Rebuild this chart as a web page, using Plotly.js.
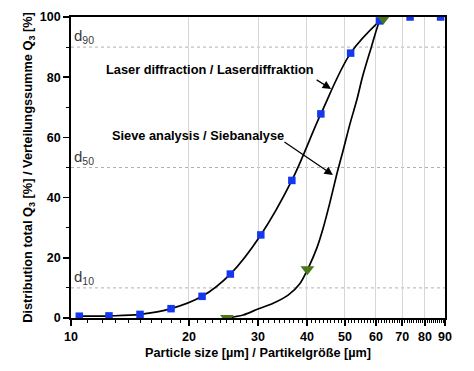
<!DOCTYPE html>
<html>
<head>
<meta charset="utf-8">
<script src="https://cdn.plot.ly/plotly-3.0.1.min.js"></script>
<style>html,body{margin:0;padding:0;background:#fff;}#chart{width:474px;height:371px;}</style>
</head>
<body>
<div id="chart"></div>
<script>
// Laser diffraction measured points (particle size µm, Q3 %)
const laserX = [10.5, 12.5, 15.0, 18.0, 21.6, 25.5, 30.5, 36.6, 43.4, 51.7, 61.3, 73.3, 87.7];
const laserY = [0.6, 0.7, 1.2, 3.1, 7.2, 14.6, 27.6, 45.7, 67.8, 88.0, 98.7, 100, 100];
// Sieve analysis measured points
const sieveX = [25.0, 40.1, 62.7];
const sieveY = [0, 16.2, 99.5];
// Sieve analysis drawn curve
const sieveCurveX = [25.0, 27.5, 30.0, 32.8, 35.8, 38.4, 40.3, 42.4, 44.0, 45.8, 47.6, 49.5, 51.5, 53.6, 55.5, 58.3, 61.4, 62.5];
const sieveCurveY = [0, 1.0, 3.0, 4.9, 7.6, 11.5, 16.6, 23.3, 29.9, 38.5, 47.5, 55.8, 64.5, 72.4, 80.4, 89.7, 98.7, 99.3];
// Characteristic levels
const dLevels = [10, 50, 90];
const dLabels = ['d<sub>10</sub>', 'd<sub>50</sub>', 'd<sub>90</sub>'];
// Axis ticks
const xTicks = [10, 20, 30, 40, 50, 60, 70, 80, 90];
const yTicks = [0, 20, 40, 60, 80, 100];
const xMinor = [];
for (let v = 11; v < 90; v++) { if (v % 10 !== 0) xMinor.push(v); }

const FONT = 'Liberation Sans, Arial, sans-serif';
const lineCut = laserX.filter(x => x <= 62).length;

const traces = [
  {x: sieveCurveX, y: sieveCurveY, mode: 'lines', line: {color: '#000', width: 1.7, shape: 'spline', smoothing: 0.8}, hoverinfo: 'skip'},
  {x: laserX.slice(0, lineCut), y: laserY.slice(0, lineCut), mode: 'lines', line: {color: '#000', width: 1.7, shape: 'spline'}},
  {x: laserX, y: laserY, mode: 'markers', marker: {symbol: 'square', size: 7.5, color: '#1438f0'}},
  {x: sieveX, y: sieveY, mode: 'markers', marker: {symbol: 'triangle-down', size: 12, color: '#4a7a18'}}
];

const shapes = dLevels.map(v => ({
  type: 'line', xref: 'paper', x0: 0, x1: 1, yref: 'y', y0: v, y1: v,
  line: {color: '#b0b0b0', width: 1, dash: 'dot'}, layer: 'below'
}));

const annotations = dLevels.map((v, i) => ({
  xref: 'paper', x: 0.004, xanchor: 'left', yref: 'y', y: v, yanchor: 'bottom', yshift: -1,
  text: dLabels[i], showarrow: false, font: {family: FONT, size: 15, color: '#3a3a3a'}
}));
annotations.push(
  {xref: 'x', yref: 'y', x: 1.0842, y: 82.4, xanchor: 'left', yanchor: 'middle',
   text: 'Laser diffraction / Laserdiffraktion', showarrow: false,
   font: {family: FONT, size: 12.8, color: '#000', weight: 'bold'}},
  {xref: 'x', yref: 'y', x: 1.0995, y: 60.5, xanchor: 'left', yanchor: 'middle',
   text: 'Sieve analysis / Siebanalyse', showarrow: false,
   font: {family: FONT, size: 12.8, color: '#000', weight: 'bold'}},
  {xref: 'x', yref: 'y', x: Math.log10(46.1), y: 76.1, text: '', showarrow: true,
   ax: -16, ay: -10, arrowhead: 2, arrowsize: 1.3, arrowwidth: 1.3, arrowcolor: '#000'},
  {xref: 'x', yref: 'y', x: Math.log10(46.6), y: 47.5, text: '', showarrow: true,
   ax: -50, ay: -34, arrowhead: 2, arrowsize: 1.3, arrowwidth: 1.3, arrowcolor: '#000'}
);

const layout = {
  width: 474, height: 371,
  margin: {l: 71, r: 29, t: 17, b: 53},
  paper_bgcolor: '#fff', plot_bgcolor: '#fff',
  showlegend: false,
  font: {family: FONT, color: '#000'},
  xaxis: {
    type: 'log', range: [Math.log10(10), Math.log10(90)],
    tickmode: 'array', tickvals: xTicks, ticktext: xTicks.map(String),
    ticks: 'outside', ticklen: 6, tickwidth: 1.5, tickcolor: '#000',
    showline: true, linecolor: '#000', linewidth: 1.8, mirror: true,
    showgrid: true, gridcolor: '#d6d6d6', gridwidth: 1,
    zeroline: false,
    tickfont: {family: FONT, size: 12.5, weight: 'bold'},
    minor: {tickmode: 'array', tickvals: xMinor, ticks: 'outside', ticklen: 3, tickwidth: 1, tickcolor: '#000', showgrid: false},
    title: {text: 'Particle size [µm] / Partikelgröße [µm]', font: {family: FONT, size: 12.7, weight: 'bold'}, standoff: 5}
  },
  yaxis: {
    range: [0, 100],
    tickmode: 'array', tickvals: yTicks, ticktext: yTicks.map(String),
    ticks: 'outside', ticklen: 6, tickwidth: 1.5, tickcolor: '#000',
    showline: true, linecolor: '#000', linewidth: 1.8, mirror: true,
    showgrid: false, zeroline: false,
    tickfont: {family: FONT, size: 12.5, weight: 'bold'},
    minor: {dtick: 10, ticks: 'outside', ticklen: 3, tickwidth: 1, tickcolor: '#000', showgrid: false},
    title: {text: 'Distribution total Q<sub>3</sub> [%] / Verteilungssumme Q<sub>3</sub> [%]', font: {family: FONT, size: 12.8, weight: 'bold'}, standoff: 4}
  },
  shapes: shapes,
  annotations: annotations
};

Plotly.newPlot('chart', traces, layout, {displayModeBar: false, staticPlot: true});
</script>
</body>
</html>
